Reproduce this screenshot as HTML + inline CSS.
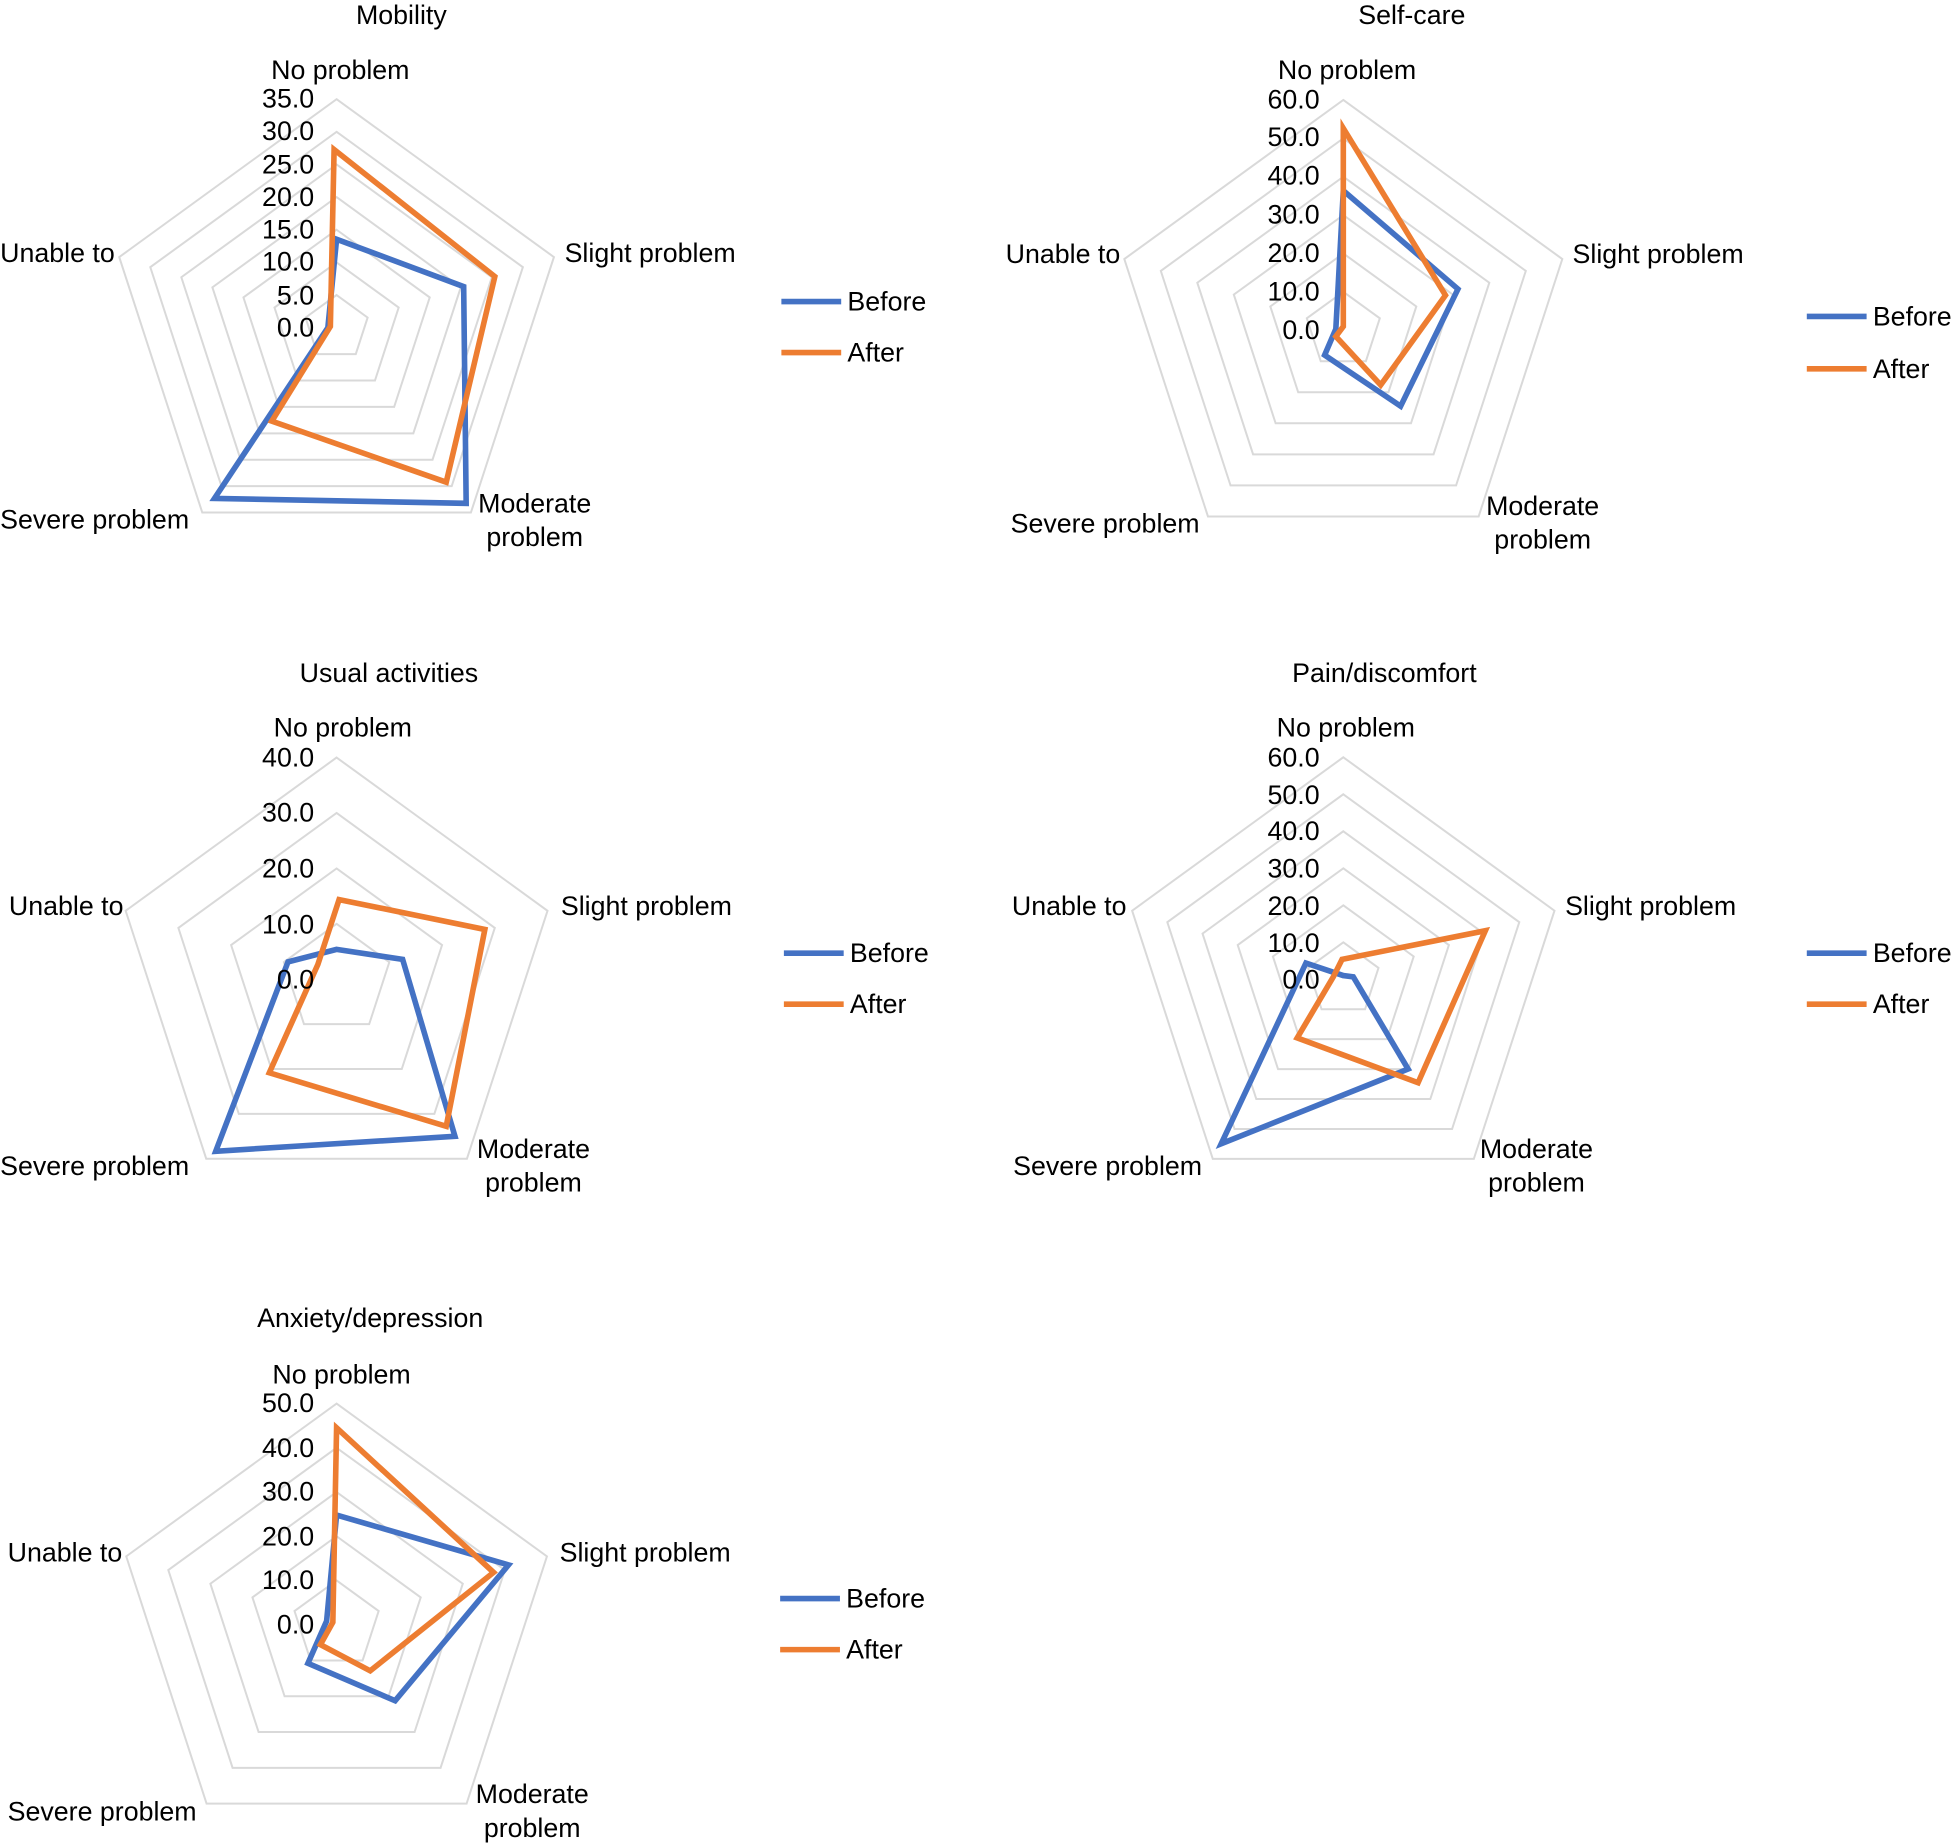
<!DOCTYPE html>
<html><head><meta charset="utf-8"><style>
html,body{margin:0;padding:0;background:#fff}
svg{display:block}
text{font-family:"Liberation Sans",Arial,sans-serif;font-size:21.5px;fill:#000;dominant-baseline:central}
.g{fill:none;stroke:#d9d9d9;stroke-width:2}
.b{fill:none;stroke:#4472C4;stroke-width:4.5;stroke-linejoin:miter}
.o{fill:none;stroke:#ED7D31;stroke-width:4.5;stroke-linejoin:miter}
.t{text-anchor:end}
.m{text-anchor:middle}
</style></head><body>
<svg width="1954" height="1844" viewBox="0 0 1568 1480" xmlns="http://www.w3.org/2000/svg">

<!-- Chart 1 Mobility -->
<g transform="translate(270,263)">
<polygon class="g" vector-effect="non-scaling-stroke" transform="scale(26.2)" points="0,-1 0.9511,-0.309 0.5878,0.809 -0.5878,0.809 -0.9511,-0.309"/>
<polygon class="g" vector-effect="non-scaling-stroke" transform="scale(52.4)" points="0,-1 0.9511,-0.309 0.5878,0.809 -0.5878,0.809 -0.9511,-0.309"/>
<polygon class="g" vector-effect="non-scaling-stroke" transform="scale(78.6)" points="0,-1 0.9511,-0.309 0.5878,0.809 -0.5878,0.809 -0.9511,-0.309"/>
<polygon class="g" vector-effect="non-scaling-stroke" transform="scale(104.8)" points="0,-1 0.9511,-0.309 0.5878,0.809 -0.5878,0.809 -0.9511,-0.309"/>
<polygon class="g" vector-effect="non-scaling-stroke" transform="scale(131)" points="0,-1 0.9511,-0.309 0.5878,0.809 -0.5878,0.809 -0.9511,-0.309"/>
<polygon class="g" vector-effect="non-scaling-stroke" transform="scale(157.2)" points="0,-1 0.9511,-0.309 0.5878,0.809 -0.5878,0.809 -0.9511,-0.309"/>
<polygon class="g" vector-effect="non-scaling-stroke" transform="scale(183.4)" points="0,-1 0.9511,-0.309 0.5878,0.809 -0.5878,0.809 -0.9511,-0.309"/>
</g>
<polygon class="b" points="270,192 372,230 374,404 172,400 263,263"/>
<polygon class="o" points="268,120 397,222 358,387 218,338 265,262"/>
<text class="m" x="322" y="12">Mobility</text>
<text class="m" x="273" y="56">No problem</text>
<text x="0" y="203">Unable to</text>
<text x="453" y="203">Slight problem</text>
<text x="0" y="417">Severe problem</text>
<text class="m" x="429" y="404">Moderate</text>
<text class="m" x="429" y="431">problem</text>
<text class="t" x="252" y="79">35.0</text><text class="t" x="252" y="105">30.0</text><text class="t" x="252" y="132">25.0</text><text class="t" x="252" y="158">20.0</text><text class="t" x="252" y="184">15.0</text><text class="t" x="252" y="210">10.0</text><text class="t" x="252" y="237">5.0</text><text class="t" x="252" y="263">0.0</text>
<line x1="627" y1="242" x2="675" y2="242" class="b"/><text x="680" y="242">Before</text>
<line x1="627" y1="283" x2="675" y2="283" class="o"/><text x="680" y="283">After</text>

<!-- Chart 2 Self-care -->
<g transform="translate(1078,265)">
<polygon class="g" vector-effect="non-scaling-stroke" transform="scale(30.8)" points="0,-1 0.9511,-0.309 0.5878,0.809 -0.5878,0.809 -0.9511,-0.309"/>
<polygon class="g" vector-effect="non-scaling-stroke" transform="scale(61.6)" points="0,-1 0.9511,-0.309 0.5878,0.809 -0.5878,0.809 -0.9511,-0.309"/>
<polygon class="g" vector-effect="non-scaling-stroke" transform="scale(92.4)" points="0,-1 0.9511,-0.309 0.5878,0.809 -0.5878,0.809 -0.9511,-0.309"/>
<polygon class="g" vector-effect="non-scaling-stroke" transform="scale(123.2)" points="0,-1 0.9511,-0.309 0.5878,0.809 -0.5878,0.809 -0.9511,-0.309"/>
<polygon class="g" vector-effect="non-scaling-stroke" transform="scale(154)" points="0,-1 0.9511,-0.309 0.5878,0.809 -0.5878,0.809 -0.9511,-0.309"/>
<polygon class="g" vector-effect="non-scaling-stroke" transform="scale(184.8)" points="0,-1 0.9511,-0.309 0.5878,0.809 -0.5878,0.809 -0.9511,-0.309"/>
</g>
<polygon class="b" points="1078,153 1170,232 1124,326 1063,285 1072,264"/>
<polygon class="o" points="1078,103 1160,237 1108,309 1072,270 1078,262"/>
<text class="m" x="1133" y="12">Self-care</text>
<text class="m" x="1081" y="56">No problem</text>
<text x="807" y="204">Unable to</text>
<text x="1262" y="204">Slight problem</text>
<text x="811" y="420">Severe problem</text>
<text class="m" x="1238" y="406">Moderate</text>
<text class="m" x="1238" y="433">problem</text>
<text class="t" x="1059" y="80">60.0</text><text class="t" x="1059" y="110">50.0</text><text class="t" x="1059" y="141">40.0</text><text class="t" x="1059" y="172">30.0</text><text class="t" x="1059" y="203">20.0</text><text class="t" x="1059" y="234">10.0</text><text class="t" x="1059" y="265">0.0</text>
<line x1="1450" y1="254" x2="1498" y2="254" class="b"/><text x="1503" y="254">Before</text>
<line x1="1450" y1="296" x2="1498" y2="296" class="o"/><text x="1503" y="296">After</text>

<!-- Chart 3 Usual activities -->
<g transform="translate(270,786)">
<polygon class="g" vector-effect="non-scaling-stroke" transform="scale(44.5)" points="0,-1 0.9511,-0.309 0.5878,0.809 -0.5878,0.809 -0.9511,-0.309"/>
<polygon class="g" vector-effect="non-scaling-stroke" transform="scale(89)" points="0,-1 0.9511,-0.309 0.5878,0.809 -0.5878,0.809 -0.9511,-0.309"/>
<polygon class="g" vector-effect="non-scaling-stroke" transform="scale(133.5)" points="0,-1 0.9511,-0.309 0.5878,0.809 -0.5878,0.809 -0.9511,-0.309"/>
<polygon class="g" vector-effect="non-scaling-stroke" transform="scale(178)" points="0,-1 0.9511,-0.309 0.5878,0.809 -0.5878,0.809 -0.9511,-0.309"/>
</g>
<polygon class="b" points="270,762 323,770 365,912 173,924 231,772"/>
<polygon class="o" points="272,722 389,746 358,904 216,861 255,774"/>
<text class="m" x="312" y="540">Usual activities</text>
<text class="m" x="275" y="584">No problem</text>
<text x="7" y="727">Unable to</text>
<text x="450" y="727">Slight problem</text>
<text x="0" y="936">Severe problem</text>
<text class="m" x="428" y="922">Moderate</text>
<text class="m" x="428" y="949">problem</text>
<text class="t" x="252" y="608">40.0</text><text class="t" x="252" y="652">30.0</text><text class="t" x="252" y="697">20.0</text><text class="t" x="252" y="742">10.0</text><text class="t" x="252" y="786">0.0</text>
<line x1="629" y1="765" x2="677" y2="765" class="b"/><text x="682" y="765">Before</text>
<line x1="629" y1="806" x2="677" y2="806" class="o"/><text x="682" y="806">After</text>

<!-- Chart 4 Pain/discomfort -->
<g transform="translate(1078,786)">
<polygon class="g" vector-effect="non-scaling-stroke" transform="scale(29.7)" points="0,-1 0.9511,-0.309 0.5878,0.809 -0.5878,0.809 -0.9511,-0.309"/>
<polygon class="g" vector-effect="non-scaling-stroke" transform="scale(59.4)" points="0,-1 0.9511,-0.309 0.5878,0.809 -0.5878,0.809 -0.9511,-0.309"/>
<polygon class="g" vector-effect="non-scaling-stroke" transform="scale(89.1)" points="0,-1 0.9511,-0.309 0.5878,0.809 -0.5878,0.809 -0.9511,-0.309"/>
<polygon class="g" vector-effect="non-scaling-stroke" transform="scale(118.8)" points="0,-1 0.9511,-0.309 0.5878,0.809 -0.5878,0.809 -0.9511,-0.309"/>
<polygon class="g" vector-effect="non-scaling-stroke" transform="scale(148.5)" points="0,-1 0.9511,-0.309 0.5878,0.809 -0.5878,0.809 -0.9511,-0.309"/>
<polygon class="g" vector-effect="non-scaling-stroke" transform="scale(178.2)" points="0,-1 0.9511,-0.309 0.5878,0.809 -0.5878,0.809 -0.9511,-0.309"/>
</g>
<polygon class="b" points="1078,783 1086,784 1130,858 980,918 1048,773"/>
<polygon class="o" points="1077,770 1192,747 1138,869 1041,833 1070,784"/>
<text class="m" x="1111" y="540">Pain/discomfort</text>
<text class="m" x="1080" y="584">No problem</text>
<text x="812" y="727">Unable to</text>
<text x="1256" y="727">Slight problem</text>
<text x="813" y="936">Severe problem</text>
<text class="m" x="1233" y="922">Moderate</text>
<text class="m" x="1233" y="949">problem</text>
<text class="t" x="1059" y="608">60.0</text><text class="t" x="1059" y="638">50.0</text><text class="t" x="1059" y="667">40.0</text><text class="t" x="1059" y="697">30.0</text><text class="t" x="1059" y="727">20.0</text><text class="t" x="1059" y="757">10.0</text><text class="t" x="1059" y="786">0.0</text>
<line x1="1450" y1="765" x2="1498" y2="765" class="b"/><text x="1503" y="765">Before</text>
<line x1="1450" y1="806" x2="1498" y2="806" class="o"/><text x="1503" y="806">After</text>

<!-- Chart 5 Anxiety/depression -->
<g transform="translate(270,1304)">
<polygon class="g" vector-effect="non-scaling-stroke" transform="scale(35.5)" points="0,-1 0.9511,-0.309 0.5878,0.809 -0.5878,0.809 -0.9511,-0.309"/>
<polygon class="g" vector-effect="non-scaling-stroke" transform="scale(71)" points="0,-1 0.9511,-0.309 0.5878,0.809 -0.5878,0.809 -0.9511,-0.309"/>
<polygon class="g" vector-effect="non-scaling-stroke" transform="scale(106.5)" points="0,-1 0.9511,-0.309 0.5878,0.809 -0.5878,0.809 -0.9511,-0.309"/>
<polygon class="g" vector-effect="non-scaling-stroke" transform="scale(142)" points="0,-1 0.9511,-0.309 0.5878,0.809 -0.5878,0.809 -0.9511,-0.309"/>
<polygon class="g" vector-effect="non-scaling-stroke" transform="scale(177.5)" points="0,-1 0.9511,-0.309 0.5878,0.809 -0.5878,0.809 -0.9511,-0.309"/>
</g>
<polygon class="b" points="270,1216 408,1256 317,1365 247,1335 262,1301"/>
<polygon class="o" points="270,1146 396,1262 297,1341 257,1320 267,1302"/>
<text class="m" x="297" y="1058">Anxiety/depression</text>
<text class="m" x="274" y="1103">No problem</text>
<text x="6" y="1246">Unable to</text>
<text x="449" y="1246">Slight problem</text>
<text x="6" y="1454">Severe problem</text>
<text class="m" x="427" y="1440">Moderate</text>
<text class="m" x="427" y="1467">problem</text>
<text class="t" x="252" y="1126">50.0</text><text class="t" x="252" y="1162">40.0</text><text class="t" x="252" y="1197">30.0</text><text class="t" x="252" y="1233">20.0</text><text class="t" x="252" y="1268">10.0</text><text class="t" x="252" y="1304">0.0</text>
<line x1="626" y1="1283" x2="674" y2="1283" class="b"/><text x="679" y="1283">Before</text>
<line x1="626" y1="1324" x2="674" y2="1324" class="o"/><text x="679" y="1324">After</text>
</svg>
</body></html>
